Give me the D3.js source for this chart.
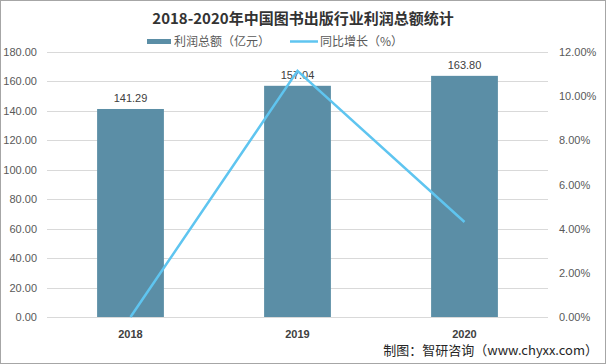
<!DOCTYPE html>
<html>
<head>
<meta charset="utf-8">
<script src="https://cdn.jsdelivr.net/npm/d3@7"></script>
<style>
  body { margin: 0; background: #fff; }
  svg { display: block; font-family: "Microsoft YaHei", "Noto Sans CJK SC", sans-serif; }
</style>
</head>
<body>
<div id="chart"></div>
<script>
// data
const years = ['2018', '2019', '2020'];
const profit = [141.29, 157.04, 163.80];     // 利润总额（亿元）
const growth = [0, 11.15, 4.30];             // 同比增长（%）
const leftTicks = [0, 20, 40, 60, 80, 100, 120, 140, 160, 180];
const rightTicks = [0, 2, 4, 6, 8, 10, 12];

const width = 606, height = 364;
const margin = { top: 52, right: 58, bottom: 47, left: 47 };

const svg = d3.select('#chart').append('svg')
  .attr('width', width)
  .attr('height', height);

// frame
svg.append('rect')
  .attr('x', 0.5).attr('y', 0.5)
  .attr('width', width - 1).attr('height', height - 1)
  .attr('fill', '#fff')
  .attr('stroke', '#a6a6a6');

const x = d3.scaleBand()
  .domain(years)
  .range([margin.left, width - margin.right])
  .paddingInner(0.6)
  .paddingOuter(0.3);

const y = d3.scaleLinear()
  .domain([0, 180])
  .range([height - margin.bottom, margin.top]);

const y2 = d3.scaleLinear()
  .domain([0, 12])
  .range([height - margin.bottom, margin.top]);

// gridlines
svg.append('g')
  .selectAll('line')
  .data(leftTicks)
  .enter().append('line')
  .attr('x1', margin.left)
  .attr('x2', width - margin.right)
  .attr('y1', d => Math.round(y(d)) + 0.5)
  .attr('y2', d => Math.round(y(d)) + 0.5)
  .attr('stroke', '#d9d9d9');

// left axis
const la = svg.append('g')
  .attr('transform', `translate(${margin.left - 10},0)`)
  .call(d3.axisLeft(y).tickValues(leftTicks).tickSize(0).tickPadding(0).tickFormat(d => d.toFixed(2)));
la.select('.domain').remove();
la.selectAll('text')
  .style('fill', '#595959')
  .style('font-size', '11px')
  .style('font-family', '"Liberation Sans", Arial, sans-serif');

// right axis
const ra = svg.append('g')
  .attr('transform', `translate(${width - margin.right + 11},0)`)
  .call(d3.axisRight(y2).tickValues(rightTicks).tickSize(0).tickPadding(0).tickFormat(d => d.toFixed(2) + '%'));
ra.select('.domain').remove();
ra.selectAll('text')
  .style('fill', '#595959')
  .style('font-size', '11px')
  .style('font-family', '"Liberation Sans", Arial, sans-serif');

// bars
svg.selectAll('.bar')
  .data(profit)
  .enter().append('rect')
  .attr('class', 'bar')
  .attr('x', (d, i) => x(years[i]))
  .attr('width', x.bandwidth())
  .attr('y', d => y(d))
  .attr('height', d => y(0) - y(d))
  .attr('fill', '#5b8ea6');

// bar value labels
svg.selectAll('.label')
  .data(profit)
  .enter().append('text')
  .attr('class', 'label')
  .attr('x', (d, i) => x(years[i]) + x.bandwidth() / 2)
  .attr('y', d => y(d) - 7)
  .attr('text-anchor', 'middle')
  .style('fill', '#404040')
  .style('font-size', '11px')
  .style('font-family', '"Liberation Sans", Arial, sans-serif')
  .text(d => d.toFixed(2));

// growth line
const line = d3.line()
  .x((d, i) => x(years[i]) + x.bandwidth() / 2)
  .y(d => y2(d));

svg.append('path')
  .datum(growth)
  .attr('d', line)
  .attr('fill', 'none')
  .attr('stroke', '#5fc5f0')
  .attr('stroke-width', 2.5);

// x axis labels
svg.selectAll('.xlab')
  .data(years)
  .enter().append('text')
  .attr('x', d => x(d) + x.bandwidth() / 2)
  .attr('y', height - margin.bottom + 21)
  .attr('text-anchor', 'middle')
  .style('fill', '#404040')
  .style('font-size', '11px')
  .style('font-weight', 'bold')
  .style('font-family', '"Liberation Sans", Arial, sans-serif')
  .text(d => d);

// title
svg.append('text')
  .attr('x', 303)
  .attr('y', 24)
  .attr('text-anchor', 'middle')
  .style('fill', '#333')
  .style('font-size', '15px')
  .style('font-weight', 'bold')
  .text('2018-2020年中国图书出版行业利润总额统计');

// legend
const lg = svg.append('g');
lg.append('rect')
  .attr('x', 147).attr('y', 39)
  .attr('width', 24).attr('height', 5)
  .attr('fill', '#5b8ea6');
lg.append('text')
  .attr('x', 174).attr('y', 46)
  .style('fill', '#595959')
  .style('font-size', '12px')
  .text('利润总额（亿元）');
lg.append('line')
  .attr('x1', 290).attr('x2', 318)
  .attr('y1', 41.5).attr('y2', 41.5)
  .attr('stroke', '#5fc5f0')
  .attr('stroke-width', 2.5);
lg.append('text')
  .attr('x', 320).attr('y', 46)
  .style('fill', '#595959')
  .style('font-size', '12px')
  .text('同比增长（%）');

// source
svg.append('text')
  .attr('x', 598)
  .attr('y', 355)
  .attr('text-anchor', 'end')
  .style('fill', '#262626')
  .style('font-size', '13px')
  .text('制图：智研咨询（www.chyxx.com）');
</script>
</body>
</html>
